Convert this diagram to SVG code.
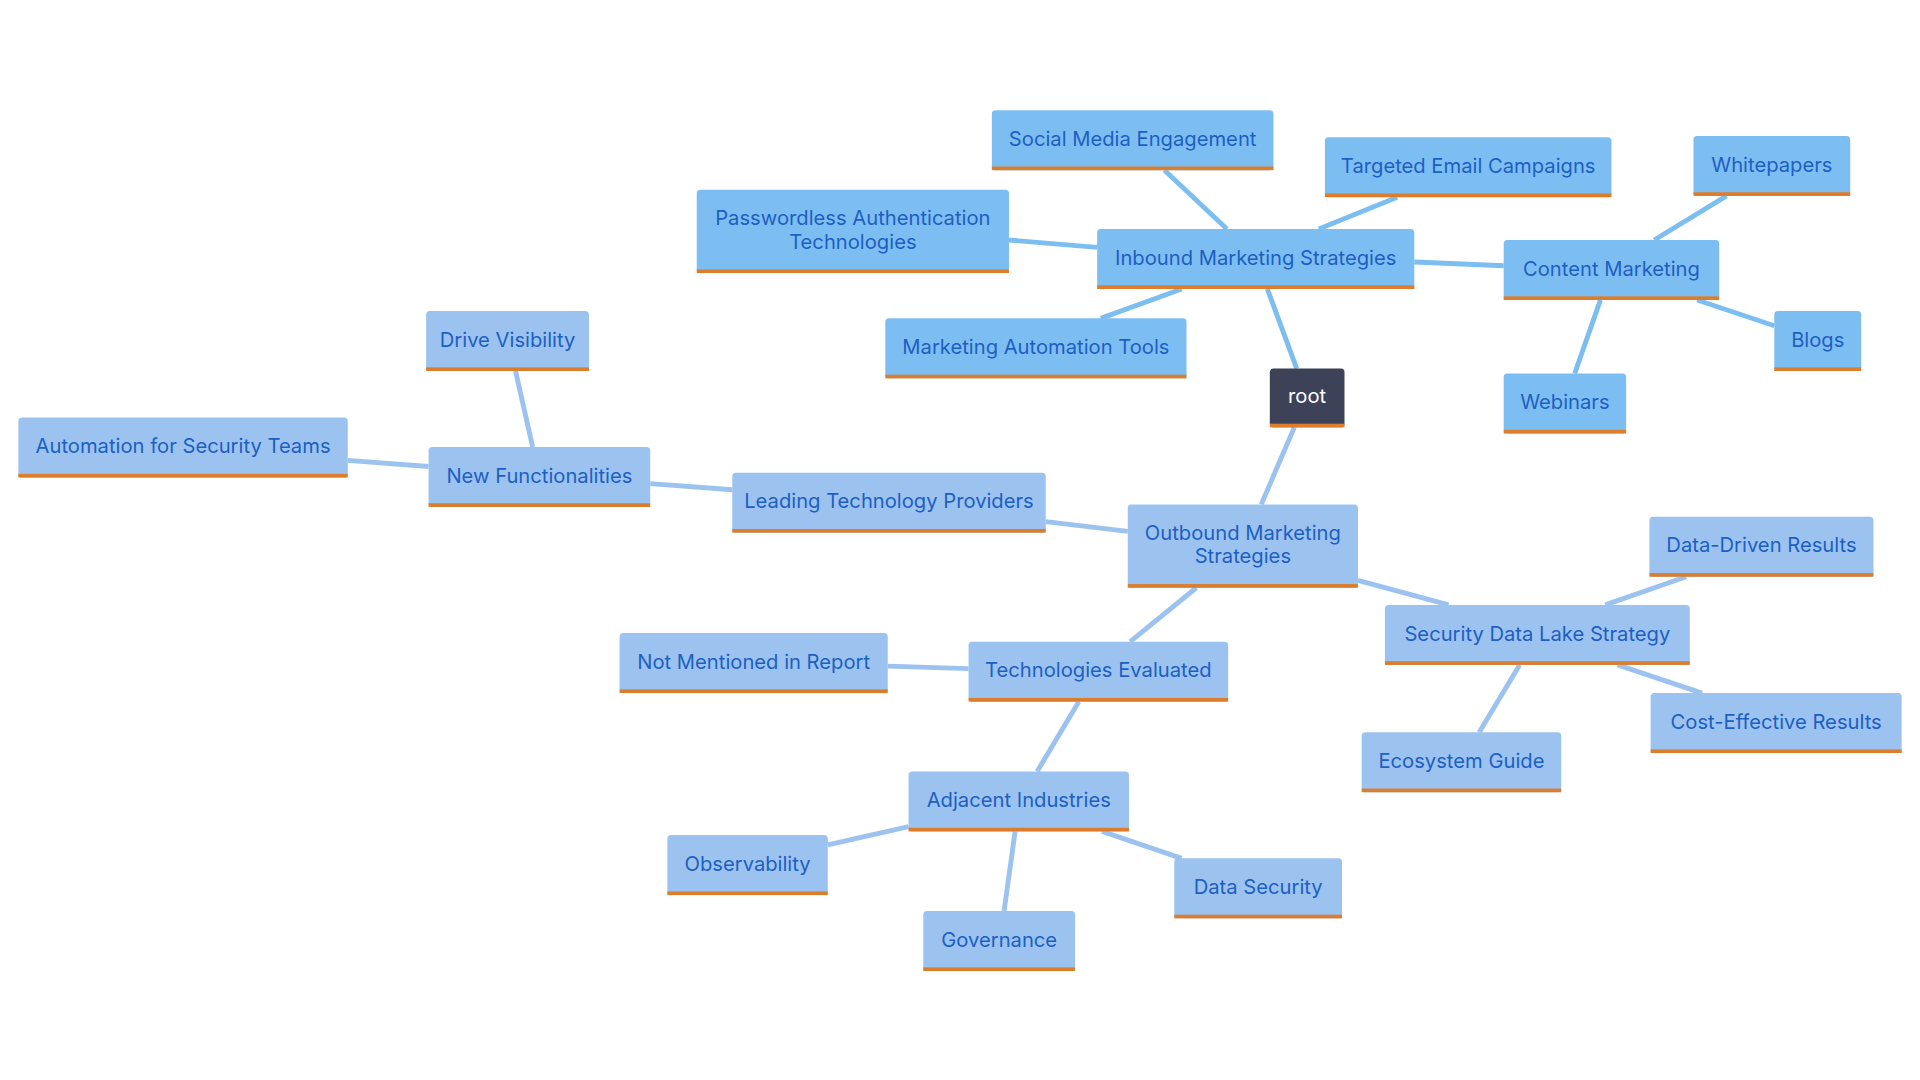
<svg xmlns="http://www.w3.org/2000/svg" width="1920" height="1080" viewBox="0 0 1920 1080">
<style>
.n rect.b{fill:#7dbef2}
.o rect.b{fill:#9cc3ef}
rect.u{fill:#dc7d2b}
text{font-family:Inter,"Noto Sans",sans-serif;font-size:16.5px;fill:#1d5fc2;text-anchor:middle;dominant-baseline:central}
.r rect.b{fill:#3d4259}
.r text{fill:#ffffff}
.ei line{stroke:#7dbef0;stroke-width:4}
.eo line{stroke:#9cc3ef;stroke-width:4}
</style>
<rect width="1920" height="1080" fill="#ffffff"/>
<g transform="scale(1.2245)">
<g id="connectors">
<g class="ei">
<line x1="1059" y1="301" x2="1035" y2="236"/>
<line x1="1002" y1="187" x2="951" y2="139"/>
<line x1="1077" y1="187" x2="1141" y2="161"/>
<line x1="896" y1="202" x2="824" y2="196"/>
<line x1="965" y1="236" x2="899" y2="260"/>
<line x1="1155" y1="214" x2="1228" y2="217"/>
<line x1="1351" y1="196" x2="1410" y2="160"/>
<line x1="1386" y1="245" x2="1449" y2="266"/>
<line x1="1307" y1="245" x2="1286" y2="305"/>
</g>
<g class="eo">
<line x1="1057" y1="349" x2="1030" y2="412"/>
<line x1="921" y1="434" x2="854" y2="426"/>
<line x1="598" y1="400" x2="531" y2="395"/>
<line x1="435" y1="365" x2="421" y2="303"/>
<line x1="350" y1="381" x2="284" y2="376"/>
<line x1="1109" y1="474" x2="1183" y2="494"/>
<line x1="1311" y1="494" x2="1377" y2="471"/>
<line x1="1321" y1="543" x2="1390" y2="566"/>
<line x1="1241" y1="543" x2="1208" y2="598"/>
<line x1="977" y1="480" x2="923" y2="524"/>
<line x1="791" y1="546" x2="725" y2="544"/>
<line x1="881" y1="573" x2="847" y2="630"/>
<line x1="742" y1="675" x2="676" y2="690"/>
<line x1="829" y1="679" x2="820" y2="744"/>
<line x1="900" y1="679" x2="965" y2="701"/>
</g>
</g>
<g id="root" class="r"><rect class="b" x="1037" y="301" width="61" height="48" rx="3"/><rect class="u" x="1037" y="346" width="61" height="3"/><text x="1067.5" y="323">root</text></g>
<g id="inbound" class="n"><rect class="b" x="896" y="187" width="259" height="49" rx="3"/><rect class="u" x="896" y="233" width="259" height="3"/><text x="1025.5" y="210">Inbound Marketing Strategies</text></g>
<g id="social" class="n"><rect class="b" x="810" y="90" width="230" height="49" rx="3"/><rect class="u" x="810" y="136" width="230" height="3"/><text x="925" y="113">Social Media Engagement</text></g>
<g id="email" class="n"><rect class="b" x="1082" y="112" width="234" height="49" rx="3"/><rect class="u" x="1082" y="158" width="234" height="3"/><text x="1199" y="135">Targeted Email Campaigns</text></g>
<g id="passwordless" class="n"><rect class="b" x="569" y="155" width="255" height="68" rx="3"/><rect class="u" x="569" y="220" width="255" height="3"/><text x="696.5" y="178">Passwordless Authentication</text><text x="696.5" y="197">Technologies</text></g>
<g id="mat" class="n"><rect class="b" x="723" y="260" width="246" height="49" rx="3"/><rect class="u" x="723" y="306" width="246" height="3"/><text x="846" y="283">Marketing Automation Tools</text></g>
<g id="content" class="n"><rect class="b" x="1228" y="196" width="176" height="49" rx="3"/><rect class="u" x="1228" y="242" width="176" height="3"/><text x="1316" y="219">Content Marketing</text></g>
<g id="whitepapers" class="n"><rect class="b" x="1383" y="111" width="128" height="49" rx="3"/><rect class="u" x="1383" y="157" width="128" height="3"/><text x="1447" y="134">Whitepapers</text></g>
<g id="blogs" class="n"><rect class="b" x="1449" y="254" width="71" height="49" rx="3"/><rect class="u" x="1449" y="300" width="71" height="3"/><text x="1484.5" y="277">Blogs</text></g>
<g id="webinars" class="n"><rect class="b" x="1228" y="305" width="100" height="49" rx="3"/><rect class="u" x="1228" y="351" width="100" height="3"/><text x="1278" y="328">Webinars</text></g>
<g id="outbound" class="o"><rect class="b" x="921" y="412" width="188" height="68" rx="3"/><rect class="u" x="921" y="477" width="188" height="3"/><text x="1015" y="435">Outbound Marketing</text><text x="1015" y="454">Strategies</text></g>
<g id="leading" class="o"><rect class="b" x="598" y="386" width="256" height="49" rx="3"/><rect class="u" x="598" y="432" width="256" height="3"/><text x="726" y="409">Leading Technology Providers</text></g>
<g id="newf" class="o"><rect class="b" x="350" y="365" width="181" height="49" rx="3"/><rect class="u" x="350" y="411" width="181" height="3"/><text x="440.5" y="388">New Functionalities</text></g>
<g id="drive" class="o"><rect class="b" x="348" y="254" width="133" height="49" rx="3"/><rect class="u" x="348" y="300" width="133" height="3"/><text x="414.5" y="277">Drive Visibility</text></g>
<g id="automation" class="o"><rect class="b" x="15" y="341" width="269" height="49" rx="3"/><rect class="u" x="15" y="387" width="269" height="3"/><text x="149.5" y="364">Automation for Security Teams</text></g>
<g id="sdl" class="o"><rect class="b" x="1131" y="494" width="249" height="49" rx="3"/><rect class="u" x="1131" y="540" width="249" height="3"/><text x="1255.5" y="517">Security Data Lake Strategy</text></g>
<g id="datadriven" class="o"><rect class="b" x="1347" y="422" width="183" height="49" rx="3"/><rect class="u" x="1347" y="468" width="183" height="3"/><text x="1438.5" y="445">Data-Driven Results</text></g>
<g id="cost" class="o"><rect class="b" x="1348" y="566" width="205" height="49" rx="3"/><rect class="u" x="1348" y="612" width="205" height="3"/><text x="1450.5" y="589">Cost-Effective Results</text></g>
<g id="eco" class="o"><rect class="b" x="1112" y="598" width="163" height="49" rx="3"/><rect class="u" x="1112" y="644" width="163" height="3"/><text x="1193.5" y="621">Ecosystem Guide</text></g>
<g id="techeval" class="o"><rect class="b" x="791" y="524" width="212" height="49" rx="3"/><rect class="u" x="791" y="570" width="212" height="3"/><text x="897" y="547">Technologies Evaluated</text></g>
<g id="notmentioned" class="o"><rect class="b" x="506" y="517" width="219" height="49" rx="3"/><rect class="u" x="506" y="563" width="219" height="3"/><text x="615.5" y="540">Not Mentioned in Report</text></g>
<g id="adjacent" class="o"><rect class="b" x="742" y="630" width="180" height="49" rx="3"/><rect class="u" x="742" y="676" width="180" height="3"/><text x="832" y="653">Adjacent Industries</text></g>
<g id="observability" class="o"><rect class="b" x="545" y="682" width="131" height="49" rx="3"/><rect class="u" x="545" y="728" width="131" height="3"/><text x="610.5" y="705">Observability</text></g>
<g id="governance" class="o"><rect class="b" x="754" y="744" width="124" height="49" rx="3"/><rect class="u" x="754" y="790" width="124" height="3"/><text x="816" y="767">Governance</text></g>
<g id="datasecurity" class="o"><rect class="b" x="959" y="701" width="137" height="49" rx="3"/><rect class="u" x="959" y="747" width="137" height="3"/><text x="1027.5" y="724">Data Security</text></g>
</g>
</svg>
